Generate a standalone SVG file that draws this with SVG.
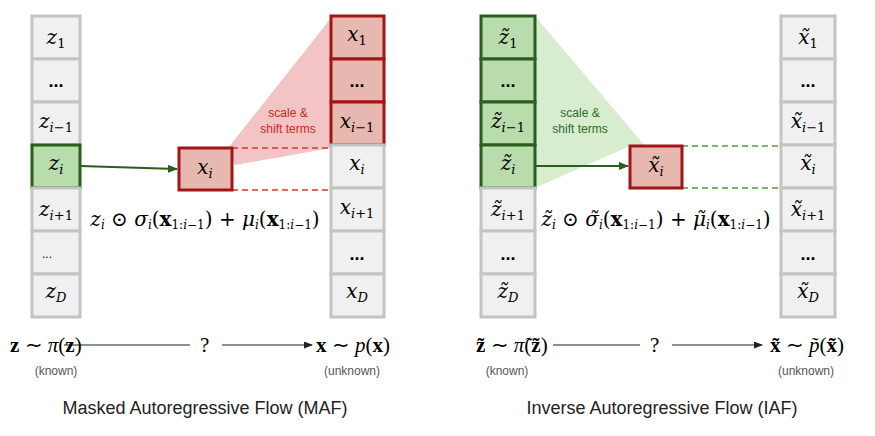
<svg xmlns="http://www.w3.org/2000/svg" width="875" height="436" viewBox="0 0 875 436">
<style>
.c{fill:#f0f0f0;stroke:#c4c4c4;stroke-width:3}
.r{fill:#e6b8b0;stroke:#a31515;stroke-width:3}
.g{fill:#b8dcac;stroke:#2a5e1c;stroke-width:3}
.m{font-family:"DejaVu Serif","Liberation Serif",serif;font-style:italic;font-size:20px;text-anchor:middle}
.e{font-family:"Liberation Serif",serif;font-size:21px;text-anchor:start}
.s{font-family:"Liberation Sans",Arial,sans-serif;text-anchor:middle}
</style>
<defs>
<marker id="ag" markerWidth="10" markerHeight="8" refX="9" refY="4" orient="auto" markerUnits="userSpaceOnUse"><path d="M0,0L10,4L0,8z" fill="#2a5e1c"/></marker>
<marker id="ab" markerWidth="9" markerHeight="7" refX="8" refY="3.5" orient="auto" markerUnits="userSpaceOnUse"><path d="M0,0L9,3.5L0,7z" fill="#222"/></marker>
</defs>
<polygon points="228,148 331,18 331,148 235,165" fill="#f2c4c6"/>
<polygon points="535,16 645,146 630,146 535,188" fill="#d8ecd0"/>
<g id="connectors">
<line x1="80" y1="166" x2="177" y2="169" stroke="#2a5e1c" stroke-width="2" marker-end="url(#ag)"/>
<line x1="232" y1="148" x2="331" y2="148" stroke="#d23a2a" stroke-width="1.5" stroke-dasharray="6,4"/>
<line x1="232" y1="190" x2="331" y2="190" stroke="#d23a2a" stroke-width="1.5" stroke-dasharray="6,4"/>
<line x1="535" y1="166" x2="628" y2="166" stroke="#2a5e1c" stroke-width="2" marker-end="url(#ag)"/>
<line x1="682" y1="146" x2="781" y2="146" stroke="#4aa03a" stroke-width="1.5" stroke-dasharray="6,4"/>
<line x1="682" y1="188" x2="781" y2="188" stroke="#4aa03a" stroke-width="1.5" stroke-dasharray="6,4"/>
<line x1="64" y1="345" x2="190" y2="345" stroke="#222" stroke-width="1.2"/>
<line x1="222" y1="345" x2="312" y2="345" stroke="#222" stroke-width="1.2" marker-end="url(#ab)"/>
<line x1="553" y1="345" x2="640" y2="345" stroke="#222" stroke-width="1.2"/>
<line x1="672" y1="345" x2="762" y2="345" stroke="#222" stroke-width="1.2" marker-end="url(#ab)"/>
</g>
<g id="maf-z">
<rect class="c" x="32" y="16" width="48" height="43"/><text class="m" x="56" y="44">z<tspan font-size="13" font-style="normal" dy="4">1</tspan></text>
<rect class="c" x="32" y="59" width="48" height="43"/><text class="s" x="56" y="87" font-size="18" font-weight="bold">...</text>
<rect class="c" x="32" y="102" width="48" height="43"/><text class="m" x="56" y="128">z<tspan font-size="13" dy="4">i</tspan><tspan font-size="13" font-style="normal">−1</tspan></text>
<rect class="g" x="32" y="145" width="48" height="43"/><text class="m" x="56" y="170">z<tspan font-size="13" dy="4">i</tspan></text>
<rect class="c" x="32" y="188" width="48" height="43"/><text class="m" x="56" y="216">z<tspan font-size="13" dy="4">i</tspan><tspan font-size="13" font-style="normal">+1</tspan></text>
<rect class="c" x="32" y="231" width="48" height="43"/><text class="s" x="47" y="258" font-size="12">...</text>
<rect class="c" x="32" y="274" width="48" height="43"/><text class="m" x="56" y="298">z<tspan font-size="13" dy="4">D</tspan></text>
</g>
<g id="maf-xi">
<rect class="r" x="179" y="148" width="53" height="42"/><text class="m" x="205" y="174">x<tspan font-size="13" dy="4">i</tspan></text>
</g>
<g id="maf-x">
<rect class="r" x="331" y="16" width="53" height="43"/><text class="m" x="357" y="41">x<tspan font-size="13" font-style="normal" dy="4">1</tspan></text>
<rect class="r" x="331" y="59" width="53" height="43"/><text class="s" x="357" y="87" font-size="18" font-weight="bold">...</text>
<rect class="r" x="331" y="102" width="53" height="43"/><text class="m" x="357" y="128">x<tspan font-size="13" dy="4">i</tspan><tspan font-size="13" font-style="normal">−1</tspan></text>
<rect class="c" x="331" y="145" width="53" height="43"/><text class="m" x="357" y="170">x<tspan font-size="13" dy="4">i</tspan></text>
<rect class="c" x="331" y="188" width="53" height="43"/><text class="m" x="357" y="214">x<tspan font-size="13" dy="4">i</tspan><tspan font-size="13" font-style="normal">+1</tspan></text>
<rect class="c" x="331" y="231" width="53" height="43"/><text class="s" x="357" y="260" font-size="18" font-weight="bold">...</text>
<rect class="c" x="331" y="274" width="53" height="43"/><text class="m" x="357" y="298">x<tspan font-size="13" dy="4">D</tspan></text>
</g>
<text class="s" x="288" y="117" font-size="12" fill="#cc2a1a">scale &amp;</text>
<text class="s" x="288" y="133" font-size="12" fill="#cc2a1a">shift terms</text>
<text class="m" x="205" y="226" font-size="17">z<tspan font-size="12" dy="3">i</tspan><tspan dy="-3" font-style="normal"> ⊙ </tspan>σ<tspan font-size="12" dy="3">i</tspan><tspan dy="-3" font-style="normal">(<tspan font-weight="bold">x</tspan><tspan font-size="12" dy="3">1:<tspan font-style="italic">i</tspan>−1</tspan><tspan dy="-3">) + </tspan></tspan>μ<tspan font-size="12" dy="3">i</tspan><tspan dy="-3" font-style="normal">(<tspan font-weight="bold">x</tspan><tspan font-size="12" dy="3">1:<tspan font-style="italic">i</tspan>−1</tspan><tspan dy="-3">)</tspan></tspan></text>

<g id="iaf-z">
<rect class="g" x="481" y="16" width="54" height="43"/><text class="m" x="508" y="44">z̃<tspan font-size="13" font-style="normal" dy="4">1</tspan></text>
<rect class="g" x="481" y="59" width="54" height="43"/><text class="s" x="508" y="87" font-size="18" font-weight="bold">...</text>
<rect class="g" x="481" y="102" width="54" height="43"/><text class="m" x="508" y="128">z̃<tspan font-size="13" dy="4">i</tspan><tspan font-size="13" font-style="normal">−1</tspan></text>
<rect class="g" x="481" y="145" width="54" height="43"/><text class="m" x="508" y="170">z̃<tspan font-size="13" dy="4">i</tspan></text>
<rect class="c" x="481" y="188" width="54" height="43"/><text class="m" x="508" y="216">z̃<tspan font-size="13" dy="4">i</tspan><tspan font-size="13" font-style="normal">+1</tspan></text>
<rect class="c" x="481" y="231" width="54" height="43"/><text class="s" x="508" y="260" font-size="18" font-weight="bold">...</text>
<rect class="c" x="481" y="274" width="54" height="43"/><text class="m" x="508" y="298">z̃<tspan font-size="13" dy="4">D</tspan></text>
</g>
<g id="iaf-xi">
<rect class="r" x="630" y="146" width="52" height="42"/><text class="m" x="656" y="172">x̃<tspan font-size="13" dy="4">i</tspan></text>
</g>
<g id="iaf-x">
<rect class="c" x="781" y="16" width="54" height="43"/><text class="m" x="808" y="44">x̃<tspan font-size="13" font-style="normal" dy="4">1</tspan></text>
<rect class="c" x="781" y="59" width="54" height="43"/><text class="s" x="808" y="87" font-size="18" font-weight="bold">...</text>
<rect class="c" x="781" y="102" width="54" height="43"/><text class="m" x="808" y="128">x̃<tspan font-size="13" dy="4">i</tspan><tspan font-size="13" font-style="normal">−1</tspan></text>
<rect class="c" x="781" y="145" width="54" height="43"/><text class="m" x="808" y="170">x̃<tspan font-size="13" dy="4">i</tspan></text>
<rect class="c" x="781" y="188" width="54" height="43"/><text class="m" x="808" y="216">x̃<tspan font-size="13" dy="4">i</tspan><tspan font-size="13" font-style="normal">+1</tspan></text>
<rect class="c" x="781" y="231" width="54" height="43"/><text class="s" x="808" y="260" font-size="18" font-weight="bold">...</text>
<rect class="c" x="781" y="274" width="54" height="43"/><text class="m" x="808" y="298">x̃<tspan font-size="13" dy="4">D</tspan></text>
</g>
<text class="s" x="580" y="117" font-size="12" fill="#2a6e1c">scale &amp;</text>
<text class="s" x="580" y="133" font-size="12" fill="#2a6e1c">shift terms</text>
<text class="m" x="656" y="226" font-size="17">z̃<tspan font-size="12" dy="3">i</tspan><tspan dy="-3" font-style="normal"> ⊙ </tspan>σ̃<tspan font-size="12" dy="3">i</tspan><tspan dy="-3" font-style="normal">(<tspan font-weight="bold">x</tspan><tspan font-size="12" dy="3">1:<tspan font-style="italic">i</tspan>−1</tspan><tspan dy="-3">) + </tspan></tspan>μ̃<tspan font-size="12" dy="3">i</tspan><tspan dy="-3" font-style="normal">(<tspan font-weight="bold">x</tspan><tspan font-size="12" dy="3">1:<tspan font-style="italic">i</tspan>−1</tspan><tspan dy="-3">)</tspan></tspan></text>

<g id="bottom">
<text class="e" x="10" y="352"><tspan font-weight="bold">z</tspan> ∼ <tspan font-style="italic">π</tspan>(<tspan font-weight="bold">z</tspan>)</text>
<text class="e" x="200" y="352">?</text>
<text class="e" x="316" y="352"><tspan font-weight="bold">x</tspan> ∼ <tspan font-style="italic">p</tspan>(<tspan font-weight="bold">x</tspan>)</text>
<text class="s" x="56" y="375" font-size="12" fill="#555">(known)</text>
<text class="s" x="352" y="375" font-size="12" fill="#555">(unknown)</text>
<text class="s" x="205" y="414" font-size="18" fill="#222">Masked Autoregressive Flow (MAF)</text>
<text class="e" x="476" y="352"><tspan font-weight="bold">z̃</tspan> ∼ <tspan font-style="italic">π̃</tspan>(<tspan font-weight="bold">z̃</tspan>)</text>
<text class="e" x="650" y="352">?</text>
<text class="e" x="770" y="352"><tspan font-weight="bold">x̃</tspan> ∼ <tspan font-style="italic">p̃</tspan>(<tspan font-weight="bold">x̃</tspan>)</text>
<text class="s" x="507" y="375" font-size="12" fill="#555">(known)</text>
<text class="s" x="806" y="375" font-size="12" fill="#555">(unknown)</text>
<text class="s" x="662" y="414" font-size="18" fill="#222">Inverse Autoregressive Flow (IAF)</text>
</g>
</svg>
